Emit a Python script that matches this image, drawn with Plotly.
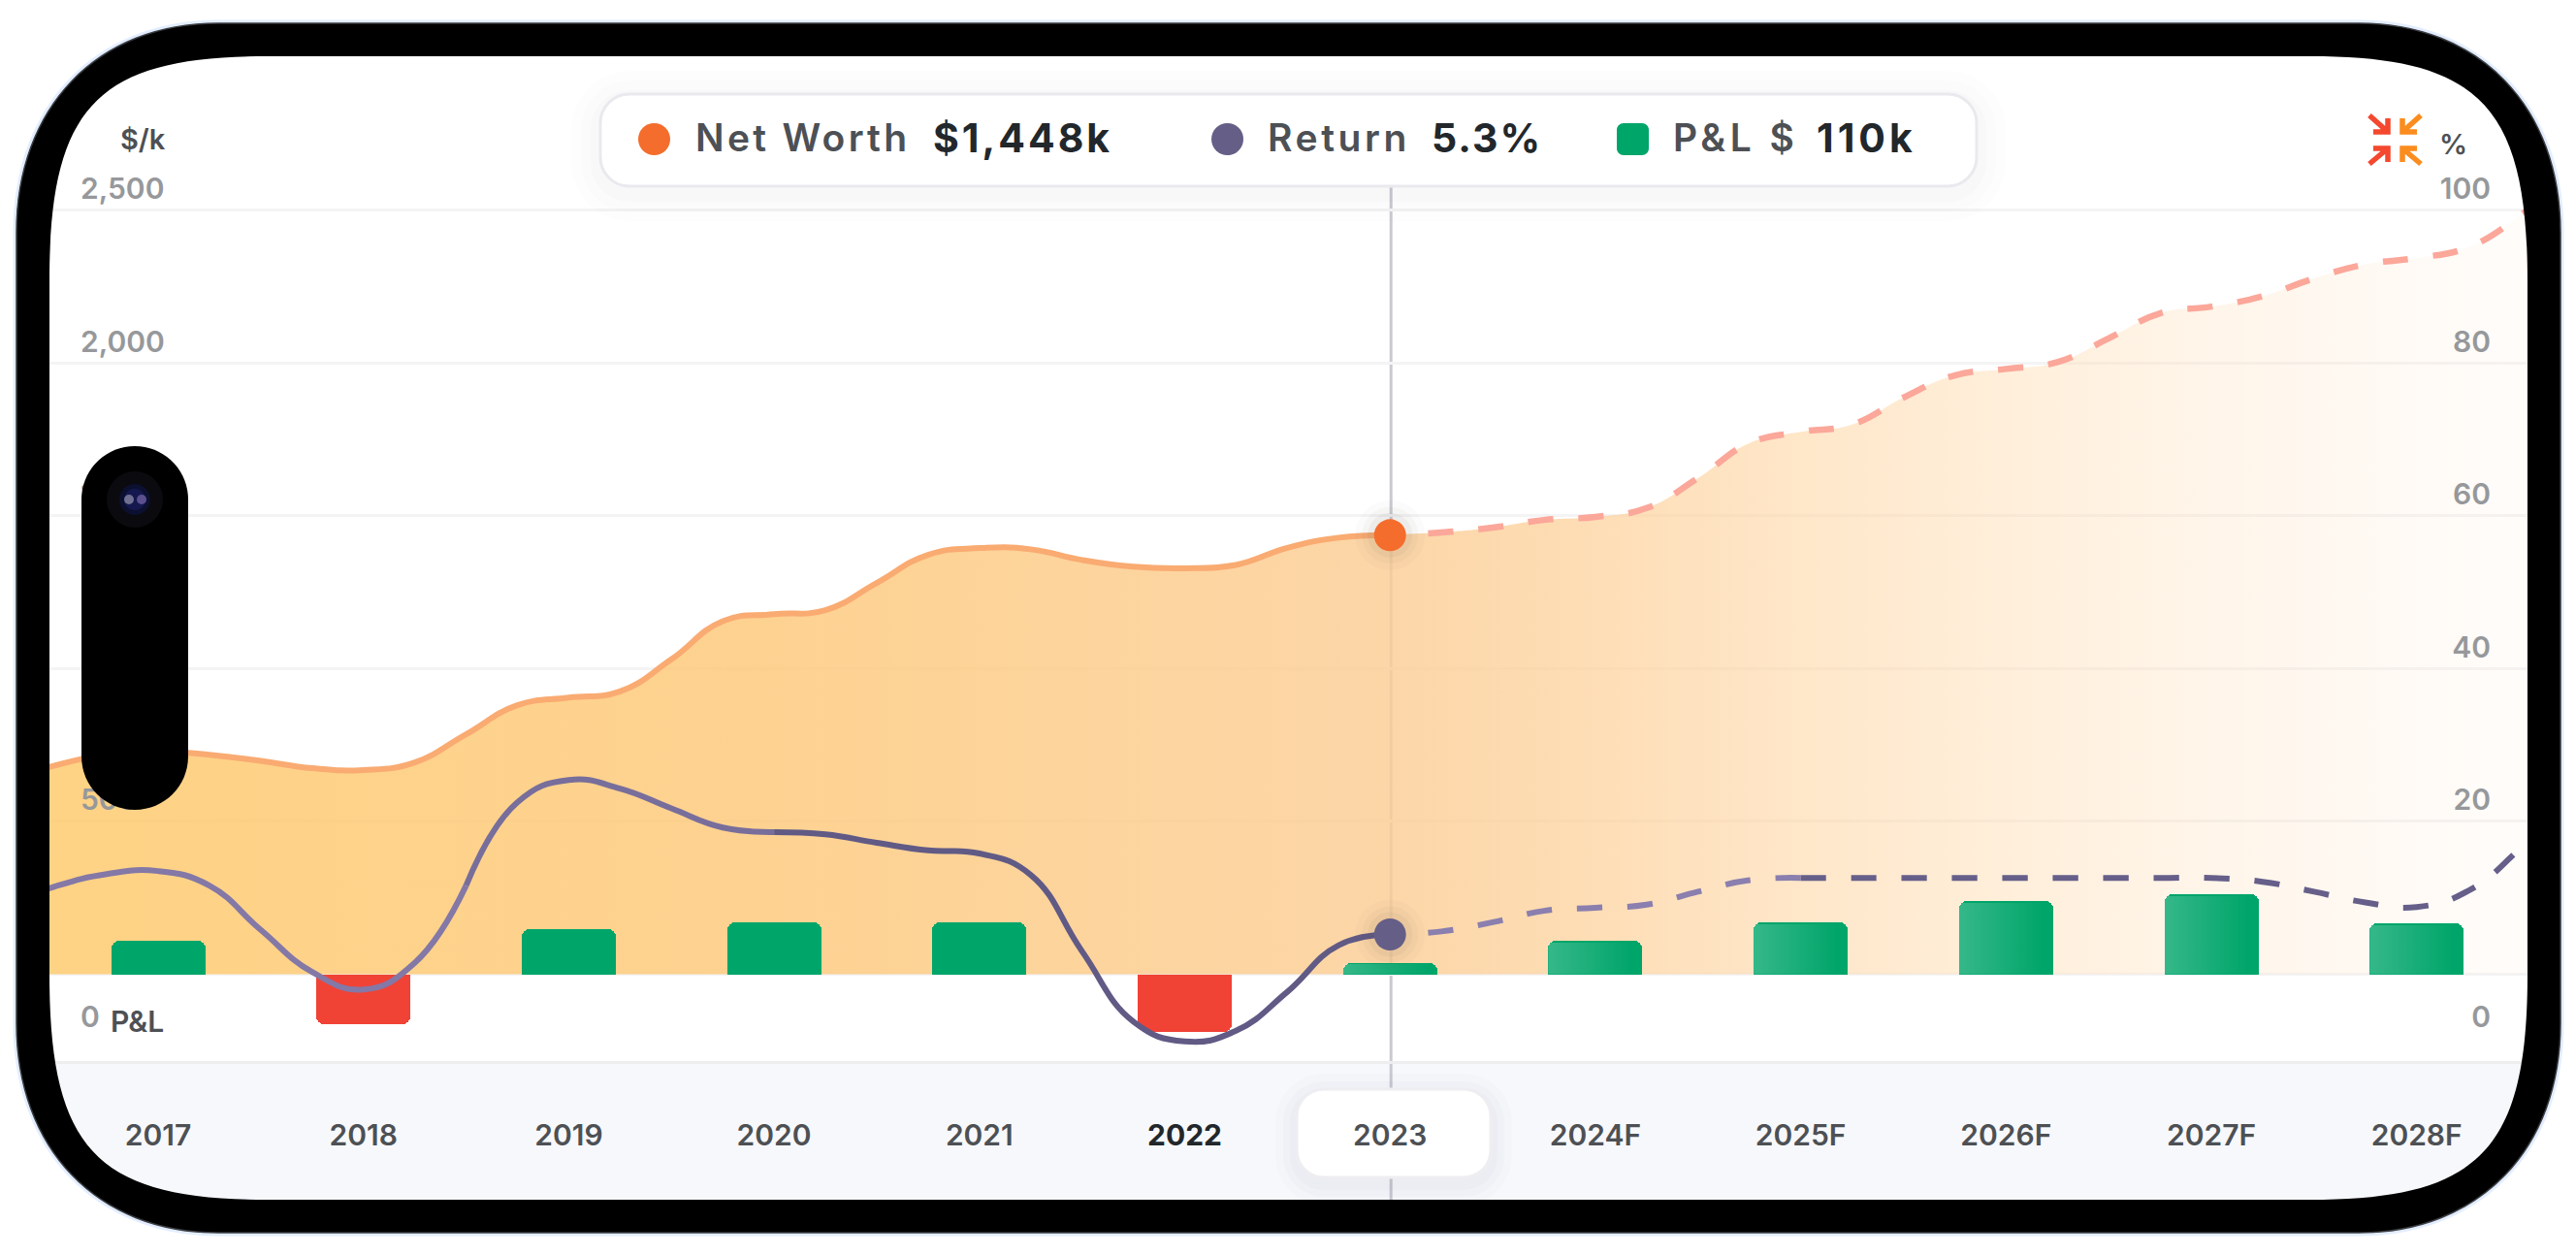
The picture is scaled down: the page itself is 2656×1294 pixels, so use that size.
import plotly.graph_objects as go

# ---------- data ----------
year_labels = ["2017", "2018", "2019", "2020", "2021", "2022", "2023", "2024F", "2025F", "2026F", "2027F", "2028F"]
years = [2017, 2018, 2019, 2020, 2021, 2022, 2023, 2024, 2025, 2026, 2027, 2028]
pnl = [312, -468, 422, 486, 486, -545, 110, 312, 486, 688, 752, 477]
pnl_forecast_from = 2023

# curve samples read every quarter of a year: offset after 2017, and the value there
nw_pos_actual = [-0.75, -0.5, -0.25, 0, 0.25, 0.5, 0.75, 1.0, 1.25, 1.5, 1.75, 2.0, 2.25, 2.5, 2.75, 3.0, 3.25, 3.5, 3.75, 4.0, 4.25, 4.5, 4.75, 5.0, 5.25, 5.5, 5.75, 6.0]
nw_val_actual = [630, 683, 719, 728, 718, 698, 674, 668, 693, 785, 880, 905, 925, 1030, 1155, 1178, 1191, 1280, 1372, 1394, 1390, 1355, 1333, 1328, 1339, 1395, 1428, 1436]
nw_pos_forecast = [5.94, 6.25, 6.5, 6.75, 7.0, 7.25, 7.5, 7.75, 8.0, 8.25, 8.5, 8.75, 9.0, 9.25, 9.5, 9.75, 10.0, 10.25, 10.5, 10.75, 11.0, 11.25, 11.5, 11.75]
nw_val_forecast = [1433, 1445, 1461, 1486, 1496, 1525, 1623, 1737, 1774, 1798, 1886, 1959, 1980, 2002, 2080, 2162, 2184, 2218, 2276, 2322, 2343, 2378, 2480, 2620]

ret_pos_actual = [-0.75, -0.5, -0.25, 0, 0.25, 0.5, 0.75, 1.0, 1.25, 1.5, 1.75, 2.0, 2.25, 2.5, 2.75, 3.0, 3.25, 3.5, 3.75, 4.0, 4.25, 4.5, 4.75, 5.0, 5.25, 5.5, 5.75, 6.0]
ret_val_actual = [9.0, 11.5, 13.1, 13.5, 11.6, 5.8, 0.3, -2.0, 1.5, 11.6, 22.5, 25.4, 24.3, 21.7, 19.2, 18.6, 18.3, 17.2, 16.2, 15.8, 13.0, 3.0, -6.2, -8.8, -7.4, -2.3, 3.8, 5.2]
ret_pos_forecast = [5.94, 6.25, 6.5, 6.75, 7.0, 7.25, 7.5, 7.75, 8.0, 8.25, 8.5, 8.75, 9.0, 9.25, 9.5, 9.75, 10.0, 10.25, 10.5, 10.75, 11.0, 11.25, 11.5, 11.75]
ret_val_forecast = [5.1, 5.6, 6.8, 8.3, 8.7, 9.1, 10.8, 12.3, 12.6, 12.6, 12.6, 12.6, 12.6, 12.6, 12.6, 12.6, 12.6, 12.1, 10.8, 9.4, 8.8, 10.9, 16.4, 24.0]

selected_year = 2023
selected_net_worth = 1436
selected_return = 5.2

left_ticks = [2500, 2000, 1500, 1000, 500, 0]
left_tick_text = ["2,500", "2,000", "1,500", "1,000", "500", "0"]
right_ticks = [100, 80, 60, 40, 20, 0]
right_tick_text = ["100", "80", "60", "40", "20", "0"]

# ---------- page geometry ----------
W, H = 2656, 1294
FLOOR = 1094          # pixel row of the x axis line
ZERO = 1004.5         # pixel row of value 0
X0 = 163.0            # pixel column of 2017
STEP = 211.7          # pixels per year
PX_NW = 0.3152        # pixels per $k on the net-worth axis
PX_RET = 7.88         # pixels per % on the return axis
PX_PNL = 0.1091       # pixels per $k on the P&L axis
BAR_W = 97 / STEP
SMOOTH = 1.3
LABEL_UP = 4          # pixels the axis labels sit above the default text offset
ZERO_DROP = 32        # pixels the "0" labels sit below the baseline text offset


def X(px):
    return px / W


def Y(py):
    return (FLOOR - py) / FLOOR


def yr(px):
    return 2017 + (px - X0) / STEP


def p(x, y):
    return f"{X(x):.5f},{Y(y):.5f}"


def rrect(x0, y0, x1, y1, rx, ry=None, k=0.448):
    ry = rx if ry is None else ry
    hx, hy = rx * k, ry * k
    return (
        f"M{p(x0 + rx, y0)} L{p(x1 - rx, y0)} "
        f"C{p(x1 - hx, y0)} {p(x1, y0 + hy)} {p(x1, y0 + ry)} "
        f"L{p(x1, y1 - ry)} C{p(x1, y1 - hy)} {p(x1 - hx, y1)} {p(x1 - rx, y1)} "
        f"L{p(x0 + rx, y1)} C{p(x0 + hx, y1)} {p(x0, y1 - hy)} {p(x0, y1 - ry)} "
        f"L{p(x0, y0 + ry)} C{p(x0, y0 + hy)} {p(x0 + hx, y0)} {p(x0 + rx, y0)} Z"
    )


FONT = "Inter, 'Noto Sans', sans-serif"
DARK = "#22272b"
MID = "#4d5054"
GREY = "#96989b"
ORANGE = "#f46d2c"
PURPLE = "#655e87"
GREEN = "#00a56a"
RED = "#f14236"

fig = go.Figure()


def pos(lst):
    return [2017 + v for v in lst]


# ---------- net worth (primary y) ----------
fig.add_trace(go.Scatter(
    x=pos(nw_pos_actual[:-1] + nw_pos_forecast[1:]), y=nw_val_actual[:-1] + nw_val_forecast[1:],
    mode="none", fill="tozeroy", line=dict(shape="spline", smoothing=SMOOTH),
    fillgradient=dict(type="horizontal", colorscale=[
        [0.0, "rgba(254,201,104,0.82)"],
        [0.30, "rgba(253,200,121,0.82)"],
        [0.54, "rgba(251,205,148,0.82)"],
        [0.62, "rgba(253,207,150,0.70)"],
        [0.785, "rgba(255,215,165,0.40)"],
        [0.91, "rgba(255,222,185,0.20)"],
        [1.0, "rgba(255,225,200,0.05)"],
    ]),
    showlegend=False, hoverinfo="skip", yaxis="y",
))
fig.add_trace(go.Scatter(
    x=pos(nw_pos_actual), y=nw_val_actual, mode="lines",
    line=dict(color="#f9ab72", width=6, shape="spline", smoothing=SMOOTH),
    showlegend=False, hoverinfo="skip", yaxis="y",
))
fig.add_trace(go.Scatter(
    x=pos(nw_pos_forecast), y=nw_val_forecast, mode="lines",
    line=dict(color="#fba79a", width=6.5, shape="spline", smoothing=SMOOTH, dash="26px,26px"),
    showlegend=False, hoverinfo="skip", yaxis="y",
))
for size, alpha in ((72, 0.025), (58, 0.035), (46, 0.05)):
    fig.add_trace(go.Scatter(
        x=[selected_year], y=[selected_net_worth], mode="markers",
        marker=dict(size=size, color=f"rgba(90,80,70,{alpha})", line=dict(width=0)),
        showlegend=False, hoverinfo="skip", yaxis="y",
    ))
fig.add_trace(go.Scatter(
    x=[selected_year], y=[selected_net_worth], mode="markers",
    marker=dict(size=33, color=ORANGE, line=dict(width=0)),
    showlegend=False, hoverinfo="skip", yaxis="y",
))
# left tick labels, sitting on their gridlines like the original
fig.add_trace(go.Scatter(
    x=[yr(83)] * 5, y=[t + LABEL_UP / PX_NW for t in left_ticks[:5]], text=left_tick_text[:5], mode="text",
    textposition="top right", textfont=dict(family=FONT, size=30, color=GREY, weight=600),
    showlegend=False, hoverinfo="skip", yaxis="y",
))
fig.add_trace(go.Scatter(
    x=[yr(83)], y=[left_ticks[5] - ZERO_DROP / PX_NW], text=left_tick_text[5:], mode="text",
    textposition="bottom right", textfont=dict(family=FONT, size=30, color=GREY, weight=600),
    showlegend=False, hoverinfo="skip", yaxis="y",
))

# ---------- P&L bars (second y) ----------
fig.add_trace(go.Bar(
    x=years, y=pnl, width=BAR_W,
    marker=dict(color=[GREEN if v > 0 else RED for v in pnl], cornerradius=8, line=dict(width=0)),
    showlegend=False, hoverinfo="skip", yaxis="y2",
))
for yy, v in zip(years, pnl):
    if yy >= pnl_forecast_from:
        fig.add_trace(go.Scatter(
            x=[yy - BAR_W / 2, yy + BAR_W / 2, yy + BAR_W / 2, yy - BAR_W / 2],
            y=[0, 0, v - 1.5 / PX_PNL, v - 1.5 / PX_PNL], mode="none", fill="toself",
            fillgradient=dict(type="horizontal", colorscale=[
                [0.0, "rgba(255,255,255,0.21)"],
                [0.9, "rgba(255,255,255,0.0)"],
                [1.0, "rgba(255,255,255,0.0)"],
            ]),
            showlegend=False, hoverinfo="skip", yaxis="y2",
        ))

# ---------- return (third y) ----------
split_a = 9    # sample at 2018.5
split_b = 15   # sample at 2020.0
for a, b, col in (
    (0, split_a + 1, "#8478a6"),
    (split_a, split_b + 1, "#786e9b"),
    (split_b, len(ret_pos_actual), "#615a85"),
):
    fig.add_trace(go.Scatter(
        x=pos(ret_pos_actual[a:b]), y=ret_val_actual[a:b], mode="lines",
        line=dict(color=col, width=6, shape="spline", smoothing=SMOOTH),
        showlegend=False, hoverinfo="skip", yaxis="y3",
    ))
fig.add_trace(go.Scatter(
    x=pos(ret_pos_forecast[:9]), y=ret_val_forecast[:9], mode="lines",
    line=dict(color="#8a7fae", width=6, shape="spline", smoothing=SMOOTH, dash="26px,26px"),
    showlegend=False, hoverinfo="skip", yaxis="y3",
))
fig.add_trace(go.Scatter(
    x=pos(ret_pos_forecast[8:]), y=ret_val_forecast[8:], mode="lines",
    line=dict(color="#665f8a", width=6, shape="spline", smoothing=SMOOTH, dash="26px,26px"),
    showlegend=False, hoverinfo="skip", yaxis="y3",
))
for size, alpha in ((72, 0.025), (58, 0.035), (46, 0.05)):
    fig.add_trace(go.Scatter(
        x=[selected_year], y=[selected_return], mode="markers",
        marker=dict(size=size, color=f"rgba(90,80,70,{alpha})", line=dict(width=0)),
        showlegend=False, hoverinfo="skip", yaxis="y3",
    ))
fig.add_trace(go.Scatter(
    x=[selected_year], y=[selected_return], mode="markers",
    marker=dict(size=33, color=PURPLE, line=dict(width=0)),
    showlegend=False, hoverinfo="skip", yaxis="y3",
))
fig.add_trace(go.Scatter(
    x=[yr(2568)] * 5, y=[t + LABEL_UP / PX_RET for t in right_ticks[:5]], text=right_tick_text[:5], mode="text",
    textposition="top left", textfont=dict(family=FONT, size=30, color=GREY, weight=600),
    showlegend=False, hoverinfo="skip", yaxis="y3",
))
fig.add_trace(go.Scatter(
    x=[yr(2568)], y=[right_ticks[5] - ZERO_DROP / PX_RET], text=right_tick_text[5:], mode="text",
    textposition="bottom left", textfont=dict(family=FONT, size=30, color=GREY, weight=600),
    showlegend=False, hoverinfo="skip", yaxis="y3",
))

# ---------- decoration ----------
shapes = []
# floor band of the x axis
shapes.append(dict(type="path", xref="paper", yref="paper", layer="below",
    path=f"M{p(34, FLOOR)} L{p(2623, FLOOR)} C{p(2623, 1160)} {p(2575, 1254)} {p(2380, 1254)} "
         f"L{p(275, 1254)} C{p(80, 1254)} {p(34, 1160)} {p(34, FLOOR)} Z",
    fillcolor="#f7f8fb", line=dict(width=0)))
# selection rule
RULE_X = X(X0 + STEP * (selected_year - 2017) + 1)
shapes.append(dict(type="line", xref="paper", yref="paper", layer="below",
    x0=RULE_X, x1=RULE_X, y0=Y(192), y1=Y(1237), line=dict(color="#c9c9d2", width=3)))
# selected-year pill
for grow, alpha in ((22, 0.012), (14, 0.015), (7, 0.02)):
    shapes.append(dict(type="path", xref="paper", yref="paper", layer="below",
        path=rrect(1337 - grow, 1123 - grow + 6, 1537 + grow, 1214 + grow + 6, 28 + grow),
        fillcolor=f"rgba(30,30,60,{alpha})", line=dict(width=0)))
shapes.append(dict(type="path", xref="paper", yref="paper", layer="below",
    path=rrect(1337, 1123, 1537, 1214, 28), fillcolor="#ffffff", line=dict(color="#eeeef2", width=3)))

# card shadow and card
for grow, alpha in ((30, 0.006), (20, 0.008), (10, 0.012)):
    shapes.append(dict(type="path", xref="paper", yref="paper", layer="above",
        path=rrect(619 - grow, 97 - grow + 6, 2038 + grow, 192 + grow + 6, 30 + grow),
        fillcolor=f"rgba(30,30,60,{alpha})", line=dict(width=0)))
shapes.append(dict(type="path", xref="paper", yref="paper", layer="above",
    path=rrect(619, 97, 2038, 192, 30), fillcolor="#ffffff", line=dict(color="#e9e9ee", width=3)))
# legend swatches
shapes.append(dict(type="path", xref="paper", yref="paper", layer="above",
    path=rrect(658, 127, 691, 160, 16.5), fillcolor=ORANGE, line=dict(width=0)))
shapes.append(dict(type="path", xref="paper", yref="paper", layer="above",
    path=rrect(1249, 127, 1282, 160, 16.5), fillcolor=PURPLE, line=dict(width=0)))
shapes.append(dict(type="path", xref="paper", yref="paper", layer="above",
    path=rrect(1667, 127, 1700, 160, 7), fillcolor=GREEN, line=dict(width=0)))

# collapse icon: four arrows
for tail, tip, c1, c2, col in (
    ((2443, 119), (2462, 136), (2462, 122), (2447, 136), "#f4482f"),
    ((2496, 119), (2477, 136), (2477, 122), (2492, 136), "#fb8c1e"),
    ((2443, 169), (2462, 153), (2462, 167), (2447, 153), "#f4482f"),
    ((2496, 169), (2477, 153), (2477, 167), (2492, 153), "#fb8c1e"),
):
    shapes.append(dict(type="path", xref="paper", yref="paper", layer="above",
        path=f"M{p(*tail)} L{p(*tip)} M{p(*c1)} L{p(*tip)} L{p(*c2)}",
        line=dict(color=col, width=5.5)))

# phone frame
OUT = (17, 24, 2640, 1271)
INN = (51, 58, 2606, 1237)
# white outside the phone hides the ends of the gridlines and axis line
shapes.append(dict(type="path", xref="paper", yref="paper", layer="above",
    path=f"M{p(0, 0)} L{p(W, 0)} L{p(W, H)} L{p(0, H)} Z " + rrect(*OUT, 208, 216, k=0.40),
    fillcolor="#ffffff", fillrule="evenodd", line=dict(width=0)))
shapes.append(dict(type="path", xref="paper", yref="paper", layer="above",
    path=rrect(*OUT, 208, 216, k=0.40), fillcolor="rgba(0,0,0,0)",
    line=dict(color="rgba(190,215,255,0.45)", width=7)))
shapes.append(dict(type="path", xref="paper", yref="paper", layer="above",
    path=rrect(*OUT, 208, 216, k=0.40) + " " + rrect(*INN, 224, 232, k=0.22),
    fillcolor="#000000", fillrule="evenodd", line=dict(width=0)))
shapes.append(dict(type="path", xref="paper", yref="paper", layer="above",
    path=rrect(*OUT, 208, 216, k=0.40), fillcolor="rgba(0,0,0,0)",
    line=dict(color="#3a3c40", width=1.5)))
# camera pill and lens
shapes.append(dict(type="path", xref="paper", yref="paper", layer="above",
    path=rrect(84, 460, 194, 835, 55), fillcolor="#000000", line=dict(width=0)))
for cx, cy, r, col in (
    (139, 515, 29, "#0b0a0e"),
    (139, 515, 16, "#0c1030"),
    (139, 515, 11, "#14184f"),
    (133, 515, 5, "#6f7090"),
    (146, 515, 5, "#5b4f90"),
):
    shapes.append(dict(type="circle", xref="paper", yref="paper", layer="above",
        x0=X(cx - r), x1=X(cx + r), y0=Y(cy + r), y1=Y(cy - r), fillcolor=col, line=dict(width=0)))


def note(text, px, py, size, color, weight=600, anchor="left", spacing=None):
    if spacing:
        text = f'<span style="letter-spacing:{spacing}px">{text}</span>'
    return dict(xref="paper", yref="paper", x=X(px), y=Y(py), text=text, showarrow=False,
                xanchor=anchor, yanchor="middle", xshift=0, yshift=0,
                font=dict(family=FONT, size=size, color=color, weight=weight))


annotations = [
    note("Net Worth", 715, 142, 39, MID, 600, spacing=3.3),
    note("$1,448k", 960, 142, 41, DARK, 700, spacing=3),
    note("Return", 1305, 142, 39, MID, 600, spacing=3.6),
    note("5.3%", 1474, 142, 41, DARK, 700, spacing=2),
    note("P&L $", 1723, 142, 39, MID, 600, spacing=4.5),
    note("110k", 1871, 142, 41, DARK, 700, spacing=4),
    note("$/k", 122, 143, 29, MID, 600),
    note("%", 2513, 148, 29, MID, 600),
    note("P&L", 112, 1053, 30, MID, 600),
]

tick_text = []
for lab in year_labels:
    tick_text.append('<span style="color:#22272b;font-weight:700">' + lab + "</span>" if lab == "2022" else lab)

fig.update_layout(
    width=W, height=H, autosize=False,
    margin=dict(l=0, r=0, t=0, b=H - FLOOR, pad=0),
    paper_bgcolor="#ffffff", plot_bgcolor="rgba(0,0,0,0)",
    showlegend=False, barmode="overlay", bargap=0, hovermode=False,
    font=dict(family=FONT),
    shapes=shapes, annotations=annotations,
    xaxis=dict(
        range=[yr(0), yr(W)], tickmode="array", tickvals=years, ticktext=tick_text,
        tickfont=dict(family=FONT, size=30, color=MID, weight=600),
        ticks="outside", ticklen=48, tickwidth=1, tickcolor="rgba(0,0,0,0)",
        showgrid=False, zeroline=False, showline=True, linecolor="#eeeeef", linewidth=3,
        fixedrange=True,
    ),
    yaxis=dict(
        range=[-(FLOOR - ZERO) / PX_NW, ZERO / PX_NW], tickmode="array", tickvals=left_ticks,
        showticklabels=False, ticks="", showgrid=True, gridcolor="#f4f4f5", gridwidth=3,
        zeroline=False, showline=False, fixedrange=True,
    ),
    yaxis2=dict(
        overlaying="y", side="right", range=[-(FLOOR - ZERO) / PX_PNL, ZERO / PX_PNL],
        showticklabels=False, ticks="", showgrid=False, zeroline=False, showline=False, fixedrange=True,
    ),
    yaxis3=dict(
        overlaying="y", side="right", range=[-(FLOOR - ZERO) / PX_RET, ZERO / PX_RET],
        tickmode="array", tickvals=right_ticks,
        showticklabels=False, ticks="", showgrid=False, zeroline=False, showline=False, fixedrange=True,
    ),
)

fig.write_html("out.html", config=dict(displayModeBar=False, responsive=False),
               post_script="document.body.style.margin='0';document.body.style.overflow='hidden';")
